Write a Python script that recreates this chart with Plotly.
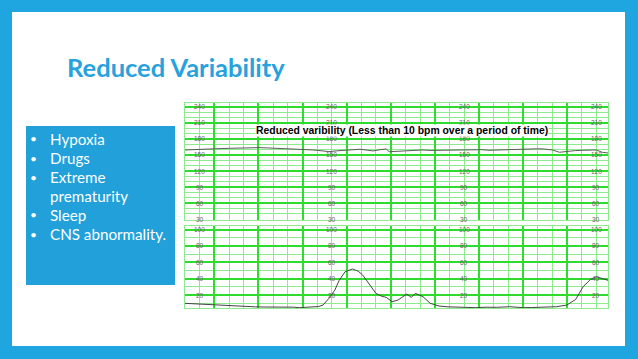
import plotly.graph_objects as go

# ---- data ----
fhr_time = [-2.0, -1.5, -1.0, -0.5, -0.1, 0.5, 1.0, 1.5, 2.1, 2.6, 3.1, 3.7, 4.4, 5.0, 5.6, 6.2, 6.7,
            7.4, 7.8, 8.4, 9.0, 9.4, 9.9, 10.4, 10.8, 11.3, 11.7, 11.9, 12.5, 13.1, 13.6, 14.2, 14.7,
            15.3, 15.9, 16.5, 17.1, 17.8, 18.2, 18.7, 19.2, 19.6, 20.1, 20.6, 21.0, 21.5, 22.0, 22.4,
            23.0, 23.5, 23.8, 24.2, 24.6, 25.1, 25.6, 26.0, 26.4, 26.8]
fhr_bpm = [159.3, 160.0, 160.6, 161.5, 162.4, 162.0, 162.4, 162.8, 163.0, 163.4, 163.7, 163.0, 162.4,
           161.8, 161.2, 160.4, 159.3, 157.5, 156.2, 157.8, 159.3, 160.2, 160.6, 159.0, 157.5, 159.8,
           161.2, 156.0, 157.0, 157.5, 158.6, 159.3, 158.4, 158.7, 159.6, 159.3, 160.0, 160.6, 159.8,
           158.7, 159.2, 158.7, 159.5, 160.0, 161.0, 161.9, 161.5, 161.2, 159.3, 155.0, 156.0, 157.5,
           158.2, 158.7, 159.0, 159.3, 155.0, 153.7]

uc_time = [-2.0, -1.5, -1.0, -0.5, -0.1, 0.4, 0.8, 1.5, 2.2, 2.8, 3.5, 4.2, 4.9, 5.4, 5.8, 6.3, 6.7,
           7.1, 7.4, 7.8, 8.2, 8.5, 8.9, 9.2, 9.4, 9.6, 9.8, 10.1, 10.5, 11.0, 11.4, 11.7, 12.1, 12.5,
           13.1, 13.4, 13.7, 14.2, 14.7, 15.3, 15.9, 16.5, 17.2, 17.8, 18.5, 19.2, 20.1, 21.0, 21.6,
           22.2, 22.8, 23.3, 24.0, 24.6, 25.1, 25.6, 26.0, 26.4, 26.8]
uc_mmhg = [9.9, 9.4, 9.0, 8.8, 8.6, 8.0, 7.8, 6.8, 5.8, 5.6, 5.4, 5.6, 5.8, 5.2, 4.6, 4.8, 5.0,
           6.0, 7.8, 16.0, 26.0, 38.0, 48.5, 50.5, 51.8, 50.5, 49.0, 44.4, 34.3, 22.0, 18.5, 17.2, 11.9,
           13.9, 21.2, 17.2, 22.0, 18.0, 9.9, 6.6, 5.6, 5.0, 4.8, 4.6, 5.2, 5.0, 5.8, 4.6, 4.8,
           5.0, 5.4, 5.8, 7.8, 14.7, 30.0, 39.0, 42.4, 40.4, 38.0]

fhr_ticks = [240, 210, 180, 150, 120, 90, 60, 30]
uc_ticks = [100, 80, 60, 40, 20]
label_columns = [-1, 8, 17, 26]

slide_title = "Reduced Variability"
bullets = ["Hypoxia", "Drugs", "Extreme", "prematurity", "Sleep", "CNS abnormality."]
bullet_marks = [True, True, True, False, True, True]
chart_title = "Reduced varibility (Less than 10 bpm over a period of time)"

# ---- layout constants ----
W, H = 638, 359
BLUE = "#1fa6e0"
BOX_BLUE = "#21a0da"
TITLE_BLUE = "#27a2dc"
MAJOR = "#2edc2e"
MINOR = "#8deb8d"


def px(x):
    return x / W


def py(y):
    return 1 - y / H


fig = go.Figure()

fig.add_trace(go.Scatter(x=fhr_time, y=fhr_bpm, mode="lines", xaxis="x", yaxis="y",
                         line=dict(color="#5a5a5a", width=1), hoverinfo="skip", showlegend=False))
fig.add_trace(go.Scatter(x=uc_time, y=uc_mmhg, mode="lines", xaxis="x2", yaxis="y2",
                         line=dict(color="#444444", width=1), hoverinfo="skip", showlegend=False))

xdom = [px(185), px(608)]
xcommon = dict(domain=xdom, range=[-2, 26.8], tick0=0, dtick=3, showgrid=True,
               gridcolor=MAJOR, gridwidth=1.8, showticklabels=False, ticks="",
               zeroline=False, showline=True, linecolor=MINOR, linewidth=1, mirror=True,
               minor=dict(dtick=1, tick0=0, showgrid=True, gridcolor=MINOR, gridwidth=1))

fig.update_layout(
    width=W, height=H, margin=dict(l=0, r=0, t=0, b=0),
    paper_bgcolor=BLUE, plot_bgcolor="white",
    xaxis=dict(**xcommon, anchor="y"),
    xaxis2=dict(**xcommon, anchor="y2"),
    yaxis=dict(domain=[py(219.5), py(103)], range=[29.6, 246.9], tick0=0, dtick=30,
               showgrid=True, gridcolor=MAJOR, gridwidth=1.8, showticklabels=False, ticks="",
               zeroline=False, showline=True, linecolor=MINOR, mirror=True, anchor="x",
               minor=dict(dtick=10, tick0=0, showgrid=True, gridcolor=MINOR, gridwidth=1)),
    yaxis2=dict(domain=[py(308), py(226)], range=[4.2, 104.3], tick0=0, dtick=20,
                showgrid=True, gridcolor=MAJOR, gridwidth=1.8, showticklabels=False, ticks="",
                zeroline=False, showline=True, linecolor=MINOR, mirror=True, anchor="x2",
                minor=dict(dtick=10, tick0=0, showgrid=True, gridcolor=MINOR, gridwidth=1)),
    showlegend=False,
)

shapes = [
    dict(type="rect", xref="paper", yref="paper", x0=px(12), x1=px(625), y0=py(346), y1=py(12),
         fillcolor="white", line=dict(width=0), layer="below"),
    dict(type="rect", xref="paper", yref="paper", x0=px(26), x1=px(175), y0=py(285), y1=py(126),
         fillcolor=BOX_BLUE, line=dict(width=0), layer="below"),
]
fig.update_layout(shapes=shapes)

ann = []
ann.append(dict(text=slide_title, xref="paper", yref="paper", x=px(65), y=py(67),
                xanchor="left", yanchor="middle", showarrow=False,
                font=dict(family="Lato", size=25.5, color=TITLE_BLUE, weight="bold")))

line_y0, line_dy = 139, 19
for i, (t, m) in enumerate(zip(bullets, bullet_marks)):
    yy = py(line_y0 + i * line_dy)
    if m:
        ann.append(dict(text="•", xref="paper", yref="paper", x=px(33), y=yy, xanchor="center",
                        yanchor="middle", showarrow=False,
                        font=dict(family="Lato", size=12, color="white")))
    ann.append(dict(text=t, xref="paper", yref="paper", x=px(48), y=yy, xanchor="left",
                    yanchor="middle", showarrow=False,
                    font=dict(family="Lato", size=15.2, color="white")))

for c in label_columns:
    for v in fhr_ticks:
        ann.append(dict(text=str(v), xref="x", yref="y", x=c, y=v, showarrow=False,
                        xanchor="center", yanchor="middle",
                        font=dict(family="Liberation Sans", size=6.5, color="#666666")))
    for v in uc_ticks:
        ann.append(dict(text=str(v), xref="x2", yref="y2", x=c, y=v, showarrow=False,
                        xanchor="center", yanchor="middle",
                        font=dict(family="Liberation Sans", size=6.5, color="#666666")))

ann.append(dict(text=chart_title, xref="x", yref="y", x=12.8, y=194.8, showarrow=False,
                xanchor="center", yanchor="middle", bgcolor="white", borderpad=0,
                font=dict(family="Liberation Sans", size=10.4, color="black", weight="bold")))

fig.update_layout(annotations=ann)

fig.write_html("out.html", config={"displayModeBar": False},
               post_script="document.body.style.margin='0';")
